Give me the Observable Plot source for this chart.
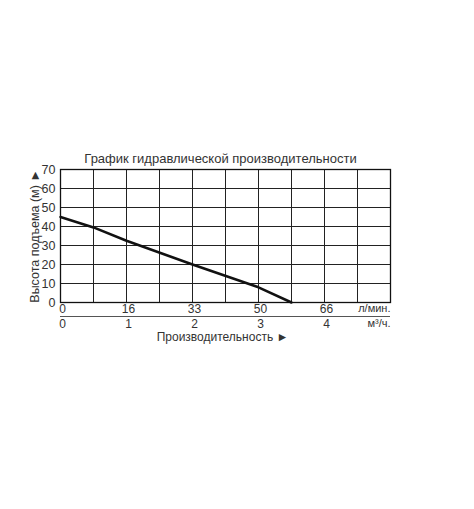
<!DOCTYPE html>
<html>
<head>
<meta charset="utf-8">
<script src="https://cdn.jsdelivr.net/npm/d3@7"></script>
<script src="https://cdn.jsdelivr.net/npm/@observablehq/plot@0.6"></script>
<style>
  html, body { margin: 0; padding: 0; background: #fff; }
  #chart svg { display: block; }
</style>
</head>
<body>
<div id="chart"></div>
<script>
// Flow in m³/h and head in m
const flowM3h = [0, 0.5, 1, 2, 3, 3.5];
const headM   = [45, 39.5, 32.5, 20, 8, 0];

// Axis ticks
const m3hTicks   = [0, 1, 2, 3, 4];
const lpmLabels  = ["0", "16", "33", "50", "66"];
const m3hLabels  = ["0", "1", "2", "3", "4"];
const gridXTicks = [0, 0.5, 1, 1.5, 2, 2.5, 3, 3.5, 4, 4.5, 5];
const yTicks     = [0, 10, 20, 30, 40, 50, 60, 70];

const titleText = "График гидравлической производительности";
const yLabel    = "Высота подъема (м) ►";
const xLabel    = "Производительность ►";
const unitLpm   = "л/мин.";
const unitM3h   = "м³/ч.";

const data = flowM3h.map((x, i) => ({x, y: headM[i]}));
const ink = "#333";

const chart = Plot.plot({
  width: 474,
  height: 509,
  marginTop: 169,
  marginLeft: 60,
  marginRight: 84,
  marginBottom: 207,
  style: {fontFamily: "'Liberation Sans', Arial, sans-serif", fontSize: "12px", color: ink, background: "#fff"},
  x: {domain: [0, 5], label: null},
  y: {domain: [0, 70], label: null},
  marks: [
    Plot.gridX(gridXTicks, {stroke: "#222", strokeOpacity: 1, strokeWidth: 1}),
    Plot.gridY(yTicks, {stroke: "#222", strokeOpacity: 1, strokeWidth: 1}),
    Plot.frame({stroke: "#111", strokeWidth: 1.3}),
    Plot.axisY(yTicks, {
      tickSize: 0, tickPadding: 5, fill: ink, fontSize: 12.5,
      label: yLabel, labelAnchor: "center", labelOffset: 30, labelArrow: "none"
    }),
    Plot.axisX(m3hTicks, {
      tickSize: 0, tickPadding: 2, fill: ink, fontSize: 12,
      tickFormat: (d, i) => lpmLabels[i], label: null, dx: 2
    }),
    Plot.axisX(m3hTicks, {
      tickSize: 0, tickPadding: 2, fill: ink, fontSize: 12,
      tickFormat: (d, i) => m3hLabels[i], label: null, dy: 15, dx: 2
    }),
    Plot.ruleY([0], {x1: 0, x2: 5, dy: 14, stroke: "#555", strokeWidth: 1}),
    Plot.text([unitLpm], {x: 5, frameAnchor: "bottom", textAnchor: "end", dy: 9, fontSize: 11, fill: ink}),
    Plot.text([unitM3h], {x: 5, frameAnchor: "bottom", textAnchor: "end", dy: 24, fontSize: 11, fill: ink}),
    Plot.text([xLabel], {frameAnchor: "bottom", dy: 38, dx: -3, fontSize: 12, fill: ink}),
    Plot.text([titleText], {frameAnchor: "top", dy: -16, dx: -5, fontSize: 13, fill: ink}),
    Plot.line(data, {x: "x", y: "y", stroke: "#111", strokeWidth: 2.5})
  ]
});
document.getElementById("chart").appendChild(chart);
</script>
</body>
</html>
